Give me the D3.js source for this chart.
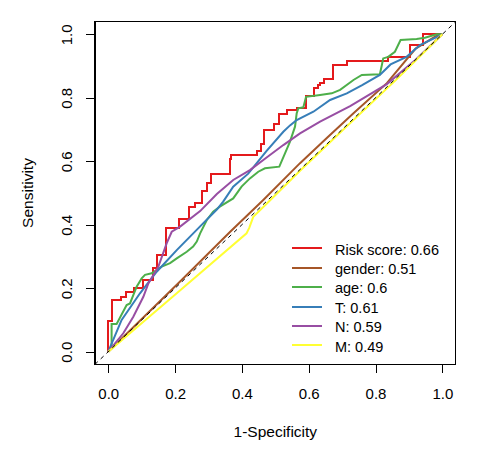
<!DOCTYPE html>
<html>
<head>
<meta charset="utf-8">
<script src="https://cdn.jsdelivr.net/npm/d3@7"></script>
<style>
    body { margin: 0; background: #fff; }
    svg { font-family: "Liberation Sans", Arial, sans-serif; }
</style>
</head>
<body>
<svg id="chart" width="491" height="455"></svg>
<script>
// ROC curves (x = 1-specificity, y = sensitivity)
const riskFpr = [0, 0.010, 0.038, 0.052, 0.078, 0.105, 0.135, 0.146, 0.173, 0.213, 0.242, 0.260, 0.280, 0.295, 0.307, 0.363, 0.367, 0.444, 0.457, 0.467, 0.496, 0.510, 0.536, 0.565, 0.592, 0.616, 0.629, 0.635, 0.646, 0.673, 0.715, 0.838, 0.902, 0.943, 1];
const riskTpr = [0, 0.098, 0.163, 0.173, 0.189, 0.200, 0.226, 0.263, 0.305, 0.389, 0.418, 0.457, 0.469, 0.507, 0.531, 0.560, 0.606, 0.620, 0.632, 0.654, 0.698, 0.717, 0.750, 0.762, 0.768, 0.806, 0.830, 0.840, 0.846, 0.858, 0.903, 0.917, 0.929, 0.966, 1];

const genderFpr = [0, 0.215, 0.365, 0.464, 0.574, 0.659, 0.734, 0.834, 0.92, 0.99, 1];
const genderTpr = [0, 0.221, 0.378, 0.478, 0.594, 0.678, 0.751, 0.846, 0.955, 1, 1];

const ageFpr = [0, 0.010, 0.010, 0.025, 0.055, 0.065, 0.085, 0.100, 0.110, 0.130, 0.160, 0.185, 0.205, 0.235, 0.254, 0.265, 0.275, 0.295, 0.314, 0.334, 0.374, 0.399, 0.424, 0.449, 0.469, 0.512, 0.529, 0.544, 0.559, 0.564, 0.569, 0.584, 0.592, 0.634, 0.669, 0.694, 0.734, 0.759, 0.813, 0.819, 0.823, 0.838, 0.858, 0.875, 0.923, 0.948, 0.983, 1];
const ageTpr = [0, 0.016, 0.087, 0.087, 0.147, 0.152, 0.205, 0.231, 0.242, 0.247, 0.268, 0.279, 0.294, 0.315, 0.331, 0.347, 0.373, 0.415, 0.441, 0.457, 0.483, 0.520, 0.546, 0.567, 0.578, 0.583, 0.625, 0.662, 0.709, 0.751, 0.767, 0.770, 0.803, 0.809, 0.814, 0.825, 0.856, 0.872, 0.874, 0.903, 0.924, 0.929, 0.945, 0.982, 0.985, 0.989, 1, 1];

const tFpr = [0, 0.04, 0.095, 0.145, 0.205, 0.275, 0.325, 0.344, 0.374, 0.419, 0.474, 0.524, 0.544, 0.564, 0.614, 0.664, 0.714, 0.76, 0.813, 0.845, 0.893, 0.933, 1];
const tTpr = [0, 0.10, 0.184, 0.252, 0.320, 0.395, 0.448, 0.473, 0.520, 0.561, 0.633, 0.693, 0.713, 0.730, 0.756, 0.793, 0.814, 0.84, 0.872, 0.905, 0.929, 0.966, 1];

const nFpr = [0, 0.045, 0.075, 0.105, 0.120, 0.150, 0.175, 0.190, 0.215, 0.275, 0.325, 0.374, 0.424, 0.474, 0.524, 0.574, 0.634, 0.724, 0.834, 0.92, 1];
const nTpr = [0, 0.058, 0.110, 0.173, 0.215, 0.268, 0.342, 0.378, 0.394, 0.443, 0.497, 0.541, 0.572, 0.612, 0.651, 0.688, 0.725, 0.774, 0.843, 0.92, 1];

const mFpr = [0, 0.205, 0.414, 0.422, 0.434, 0.474, 0.574, 0.714, 0.863, 1];
const mTpr = [0, 0.184, 0.373, 0.390, 0.425, 0.466, 0.570, 0.710, 0.858, 1];

const curveNames = ["Risk score", "gender", "age", "T", "N", "M"];
const aucValues = [0.66, 0.51, 0.6, 0.61, 0.59, 0.49];
const tickValues = [0, 0.2, 0.4, 0.6, 0.8, 1.0];

const curves = [
    { name: "Risk score", fpr: riskFpr, tpr: riskTpr, step: true },
    { name: "gender", fpr: genderFpr, tpr: genderTpr },
    { name: "age", fpr: ageFpr, tpr: ageTpr },
    { name: "T", fpr: tFpr, tpr: tTpr },
    { name: "N", fpr: nFpr, tpr: nTpr },
    { name: "M", fpr: mFpr, tpr: mTpr }
];

const colorScale = d3.scaleOrdinal()
    .domain(curveNames)
    .range(['#E41A1C', '#A65628', '#4DAF4A', '#377EB8', '#984EA3', '#FFFF33']);

const svg = d3.select("#chart");

// plot region, R style: axes run 4% past the data range
const x = d3.scaleLinear().domain([-0.04, 1.04]).range([94.9, 455.7]);
const y = d3.scaleLinear().domain([-0.04, 1.04]).range([364.4, 21.6]);

// x axis
const xAxis = svg.append("g")
    .attr("transform", `translate(0,${y(-0.04)})`)
    .call(d3.axisBottom(x).tickValues(tickValues).tickSize(9).tickSizeOuter(0).tickFormat(d3.format(".1f")));
xAxis.attr("font-family", null).attr("font-size", 15);
xAxis.selectAll("text")
    .attr("y", 34.6)
    .attr("dy", null)
    .attr("fill", "#000");
xAxis.selectAll("line, path").attr("stroke", "#000").attr("shape-rendering", "crispEdges");

// y axis, labels parallel to the axis
const yAxis = svg.append("g")
    .attr("transform", `translate(${x(-0.04)},0)`)
    .call(d3.axisLeft(y).tickValues(tickValues).tickSize(9).tickSizeOuter(0).tickFormat(d3.format(".1f")));
yAxis.attr("font-family", null).attr("font-size", 15);
yAxis.selectAll("text")
    .attr("transform", "rotate(-90)")
    .attr("x", 0)
    .attr("y", -23.2)
    .attr("dy", null)
    .attr("text-anchor", "middle")
    .attr("fill", "#000");
yAxis.selectAll("line, path").attr("stroke", "#000").attr("shape-rendering", "crispEdges");

// curves
const line = d3.line().x(d => x(d[0])).y(d => y(d[1]));
const stepLine = d3.line().x(d => x(d[0])).y(d => y(d[1])).curve(d3.curveStepBefore);

svg.append("g")
    .selectAll("path")
    .data(curves)
    .join("path")
    .attr("d", c => (c.step ? stepLine : line)(c.fpr.map((f, i) => [f, c.tpr[i]])))
    .attr("fill", "none")
    .attr("stroke", c => colorScale(c.name))
    .attr("stroke-width", 2)
    .attr("shape-rendering", c => c.step ? "crispEdges" : null);

// reference diagonal
svg.append("line")
    .attr("x1", x(-0.04)).attr("y1", y(-0.04))
    .attr("x2", x(1.04)).attr("y2", y(1.04))
    .attr("stroke", "#000")
    .attr("stroke-width", 1)
    .attr("stroke-dasharray", "4,4");

// box
svg.append("rect")
    .attr("x", x(-0.04)).attr("y", y(1.04))
    .attr("width", x(1.04) - x(-0.04))
    .attr("height", y(-0.04) - y(1.04))
    .attr("fill", "none")
    .attr("stroke", "#000")
    .attr("shape-rendering", "crispEdges");

// axis titles
svg.append("text")
    .attr("x", (x(-0.04) + x(1.04)) / 2)
    .attr("y", 437)
    .attr("text-anchor", "middle")
    .attr("font-size", 15.5)
    .text("1-Specificity");

svg.append("text")
    .attr("transform", `translate(33,${(y(-0.04) + y(1.04)) / 2}) rotate(-90)`)
    .attr("text-anchor", "middle")
    .attr("font-size", 15.5)
    .text("Sensitivity");

// legend, no box
const legend = svg.append("g")
    .selectAll("g")
    .data(curveNames)
    .join("g")
    .attr("transform", (d, i) => `translate(292.3,${248.3 + i * 19.4})`);

legend.append("line")
    .attr("x1", 0).attr("x2", 29.4)
    .attr("stroke", d => colorScale(d))
    .attr("stroke-width", 2)
    .attr("shape-rendering", "crispEdges");

legend.append("text")
    .attr("x", 42.7)
    .attr("y", 6.3)
    .attr("font-size", 14.5)
    .text((d, i) => `${d}: ${aucValues[i]}`);
</script>
</body>
</html>
